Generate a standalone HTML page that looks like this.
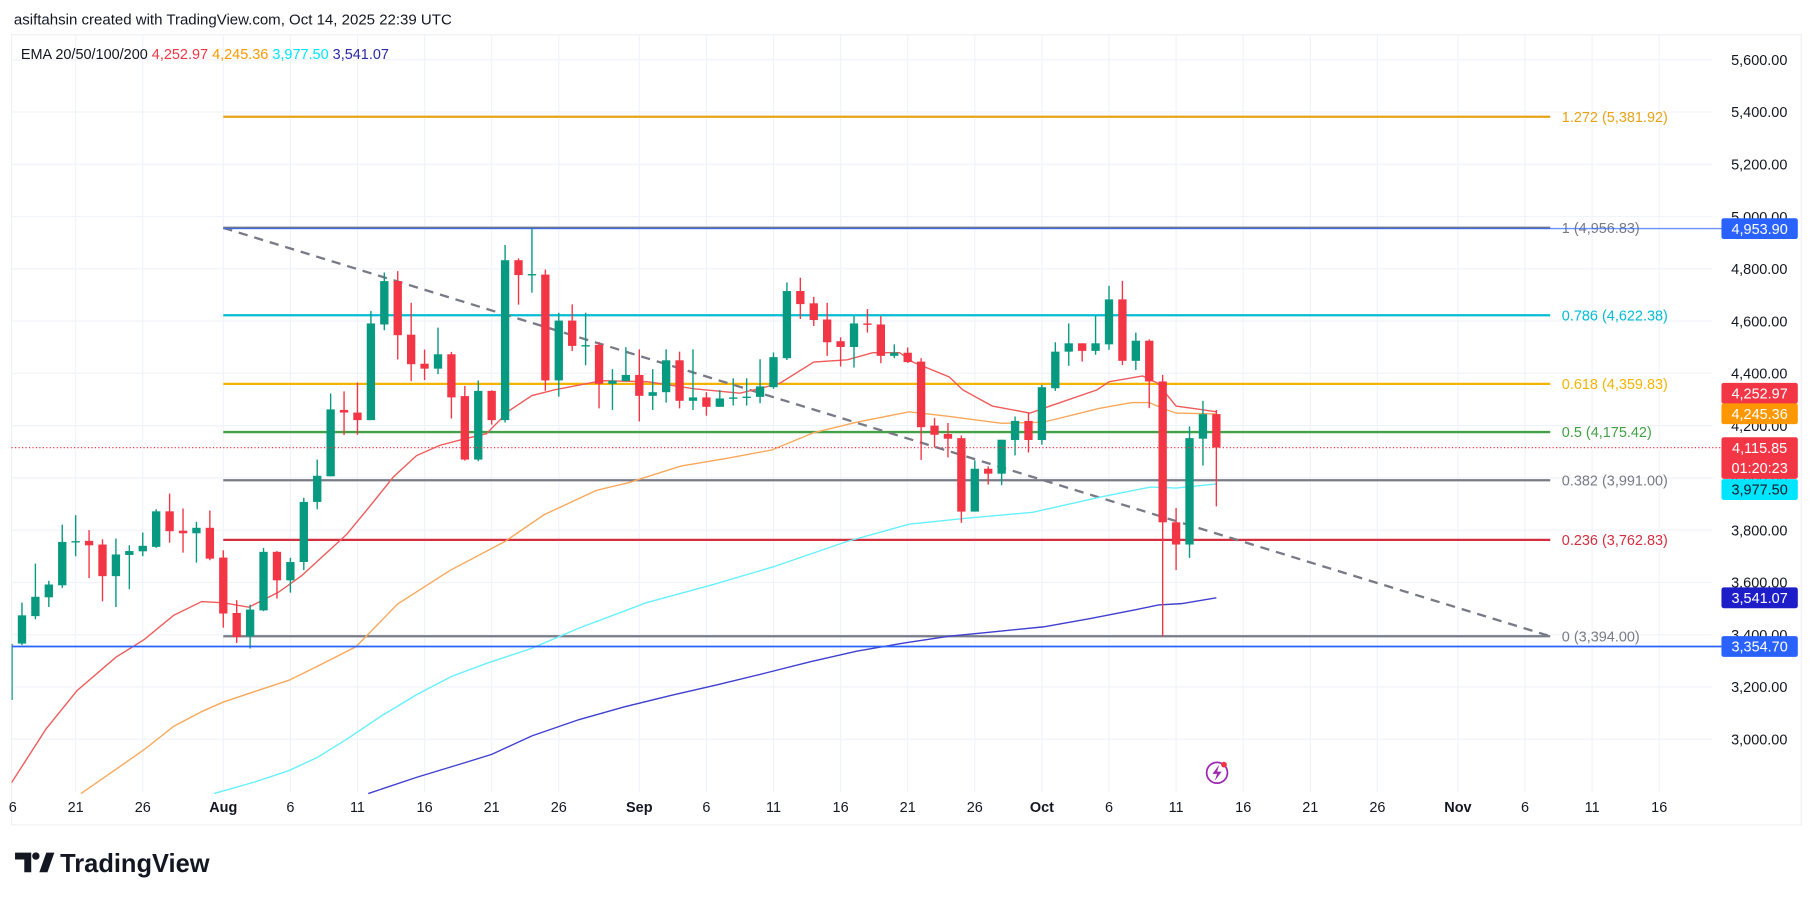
<!DOCTYPE html>
<html><head><meta charset="utf-8">
<style>
html,body{margin:0;padding:0;background:#fff;}
svg{display:block;font-family:"Liberation Sans",Arial,sans-serif;}
</style></head>
<body>
<svg id="chart" width="1814" height="900" viewBox="0 0 1568 778" preserveAspectRatio="none" xmlns="http://www.w3.org/2000/svg">
  <text x="12" y="21" font-size="13" fill="#131722">asiftahsin created with TradingView.com, Oct 14, 2025 22:39 UTC</text>
  <rect x="10" y="30" width="1547" height="683" fill="none" stroke="#eef0f4" stroke-width="1"/>
  <g id="grid"></g>
  <g id="plot"></g>
  <g id="axis"></g>
  <g id="taxis"></g>
  <text x="18" y="51" font-size="12.5"><tspan fill="#131722">EMA 20/50/100/200 </tspan><tspan fill="#f23645">4,252.97 </tspan><tspan fill="#ff9800">4,245.36 </tspan><tspan fill="#00e5ff">3,977.50 </tspan><tspan fill="#2a2aa8">3,541.07</tspan></text>
  <g>
    <path d="M13 737 H27 V754 H21 V743 H13 Z" fill="#131722"/>
    <circle cx="31" cy="740" r="3.2" fill="#131722"/>
    <path d="M34 754 L40 737 H47 L41 754 Z" fill="#131722"/>
    <text x="52" y="754" font-size="22" font-weight="bold" fill="#131722">TradingView</text>
  </g>
  <g>
    <circle cx="1052" cy="668" r="9" fill="none" stroke="#9c27b0" stroke-width="1.5"/>
    <path d="M1054 661 L1048 669 L1052 669 L1050 675 L1056 667 L1052 667 Z" fill="#9c27b0"/>
    <circle cx="1058" cy="661" r="2.5" fill="#f23645"/>
  </g>
</svg>
<script>
const days   = [-16,-15,-14,-13,-12,-11,-10,-9,-8,-7,-6,-5,-4,-3,-2,-1,0,1,2,3,4,5,6,7,8,9,10,11,12,13,14,15,16,17,18,19,20,21,22,23,24,25,26,27,28,29,30,31,32,33,34,35,36,37,38,39,40,41,42,43,44,45,46,47,48,49,50,51,52,53,54,55,56,57,58,59,60,61,62,63,64,65,66,67,68,69,70,71,72,73,74];
const opens  = [3150,3366,3471,3543,3589,3755,3759,3745,3624,3705,3719,3736,3872,3798,3788,3809,3695,3483,3394,3493,3717,3608,3678,3908,4006,4260,4250,4221,4587,4753,4548,4437,4418,4473,4313,4070,4333,4221,4833,4775,4778,4373,4602,4505,4509,4360,4371,4394,4314,4328,4450,4295,4308,4272,4306,4308,4310,4347,4458,4715,4668,4606,4523,4501,4591,4587,4467,4479,4445,4200,4168,4152,3871,4035,4016,4145,4218,4145,4343,4483,4515,4486,4511,4683,4448,4525,4369,3830,3745,4150,4244];
const highs  = [3455,3523,3672,3606,3821,3857,3800,3765,3768,3742,3791,3880,3940,3883,3832,3875,3723,3532,3515,3732,3720,3694,3924,4070,4323,4331,4365,4639,4786,4791,4670,4491,4575,4482,4352,4373,4335,4891,4840,4957,4797,4632,4664,4632,4519,4416,4500,4492,4416,4492,4483,4492,4328,4336,4381,4381,4454,4480,4748,4766,4693,4670,4538,4619,4646,4619,4511,4499,4458,4229,4210,4162,4067,4044,4146,4235,4248,4356,4519,4591,4515,4621,4735,4754,4556,4530,4394,3885,4197,4295,4260];
const lows   = [3132,3360,3459,3506,3579,3700,3617,3528,3506,3574,3700,3732,3752,3714,3676,3685,3427,3368,3347,3490,3538,3561,3647,3880,4006,4164,4165,4221,4565,4453,4370,4374,4397,4227,4066,4064,4204,4212,4663,4709,4333,4311,4485,4431,4266,4260,4369,4216,4260,4288,4266,4260,4238,4272,4277,4277,4286,4341,4451,4608,4581,4467,4426,4422,4556,4439,4458,4440,4069,4117,4078,3828,3871,3974,3972,4086,4097,4127,4333,4429,4445,4471,4490,4432,4413,4267,3394,3647,3694,4047,3891];
const closes = [3365,3474,3545,3592,3755,3758,3742,3624,3707,3720,3740,3872,3796,3788,3809,3691,3481,3391,3496,3717,3608,3678,3908,4008,4262,4250,4221,4591,4753,4546,4435,4418,4473,4308,4070,4333,4221,4833,4776,4780,4373,4602,4505,4508,4360,4372,4394,4314,4328,4450,4295,4308,4272,4304,4308,4311,4350,4462,4715,4665,4604,4519,4501,4591,4587,4467,4479,4443,4194,4165,4150,3871,4035,4016,4146,4218,4145,4347,4483,4515,4486,4515,4683,4448,4525,4369,3830,3745,4152,4244,4115.85];

const ema20Days = [-15.8,-13.2,-10.9,-8,-5.9,-3.7,-1.6,0,1.9,4.1,5.8,7.5,9.2,10.9,12.7,14.4,16.1,17.8,19.6,21.3,23,24.7,28.2,31.6,35.1,38.5,40.3,41.5,44,46.5,48.4,50.4,51.4,54.1,55.1,57.3,60.1,61.6,65.1,66,68.5,69.6,71,72.8,74];
const ema20 = [2832,3040,3186,3314,3381,3474,3527,3522,3505,3562,3624,3704,3784,3890,4005,4085,4124,4147,4169,4257,4315,4337,4372,4368,4341,4324,4346,4363,4443,4452,4479,4479,4443,4386,4337,4275,4248,4275,4337,4368,4390,4363,4275,4262,4253];
const ema50Days = [-10.6,-8,-5.9,-3.7,-1.6,0,2.3,4.9,7,9.9,13,16.9,21,23.9,27.8,30.3,34.1,37.7,40.9,44,47.2,51.1,54.1,58,61.1,65.3,67.7,69,70.2,71,74];
const ema50 = [2792,2885,2960,3049,3106,3142,3182,3226,3279,3354,3518,3646,3757,3859,3952,3983,4045,4076,4107,4173,4213,4253,4235,4209,4213,4266,4288,4288,4262,4248,4245];
const ema100Days = [-0.7,2.3,4.9,7,9.2,11.8,14.4,17,19.6,23,26.5,31.5,36.6,41,46.5,51.1,55.4,60.3,65.4,69.1,71,74];
const ema100 = [2792,2836,2880,2930,3000,3090,3170,3240,3290,3348,3425,3522,3593,3660,3757,3823,3846,3868,3927,3965,3961,3977];
const ema200Days = [10.8,14.4,17.8,20,23,26.5,29.9,33.4,36.8,40.3,43.8,47.2,50.7,54.1,57.6,61.1,64.5,68,69.7,71.4,74];
const ema200 = [2792,2854,2907,2942,3013,3075,3124,3168,3208,3252,3297,3337,3368,3394,3412,3430,3461,3496,3514,3519,3541];

const fibLevels = ["1.272","1","0.786","0.618","0.5","0.382","0.236","0"];
const fibPrices = [5381.92,4956.83,4622.38,4359.83,4175.42,3991.00,3762.83,3394.00];
const fibColors = ["#e8a317","#787b86","#00bcd4","#f5b400","#43a047","#787b86","#d32f3f","#787b86"];
const priceTicks = [5600,5400,5200,5000,4800,4600,4400,4200,4000,3800,3600,3400,3200,3000];
const timeLabels = ["21","26","Aug","6","11","16","21","26","Sep","6","11","16","21","26","Oct","6","11","16","21","26","Nov","6","11","16"];
const timeDays   = [-11,-6,0,5,10,15,20,25,31,36,41,46,51,56,61,66,71,76,81,86,92,97,102,107];
const priceBoxes = [4953.90,4252.97,4245.36,4115.85,3977.50,3541.07,3354.70];
const boxColors = ["#2962ff","#f23645","#ff9800","#f23645","#00e5ff","#1e1ec8","#2962ff"];
const lastPrice = 4115.85;

const NS="http://www.w3.org/2000/svg";
function X(d){return 193+d*11.6;}
function Y(p){return 550-(p-3394)*0.2259;}
function mk(tag,attrs,parent){const e=document.createElementNS(NS,tag);for(const k in attrs)e.setAttribute(k,attrs[k]);parent.appendChild(e);return e;}
const grid=document.getElementById('grid'),plot=document.getElementById('plot'),axis=document.getElementById('axis'),taxis=document.getElementById('taxis');
const svg=document.getElementById('chart');
const defs=mk('defs',{},svg);const cp=mk('clipPath',{id:'clip'},defs);mk('rect',{x:10,y:30,width:1470,height:682},cp);
plot.setAttribute('clip-path','url(#clip)');

priceTicks.forEach((p,i)=>{
  const l=mk('line',{x1:10,x2:1480,y1:Y(p),y2:Y(p),stroke:'#f0f3fa','stroke-width':1},grid);
  
  
  const t=mk('text',{x:1545,y:Y(p)+4.5,'font-size':12.5,fill:'#131722','text-anchor':'end'},axis);
  t.textContent=p.toLocaleString('en-US',{minimumFractionDigits:2});
  
  
});
timeLabels.forEach((s,i)=>{
  const x=X(timeDays[i]);
  const l=mk('line',{x1:x,x2:x,y1:30,y2:685,stroke:'#f0f3fa','stroke-width':1},grid);
  
  
  const bold=/[A-Z]/.test(s);
  const t=mk('text',{x:x,y:702,'font-size':12.5,fill:'#131722','text-anchor':'middle','font-weight':bold?'bold':'normal'},taxis);
  t.textContent=s;
  
  
});
const t6=mk('text',{x:11,y:702,'font-size':12.5,fill:'#131722','text-anchor':'middle'},taxis);
t6.textContent='6';



fibLevels.forEach((lv,i)=>{
  const y=Y(fibPrices[i]);
  const l=mk('line',{x1:193,x2:1340,y1:y,y2:y,stroke:fibColors[i],'stroke-width':2},plot);
  
  
  const t=mk('text',{x:1350,y:y+4.5,'font-size':12.5,fill:fibColors[i]},svg);
  t.textContent=lv+' ('+fibPrices[i].toLocaleString('en-US',{minimumFractionDigits:2})+')';
  
  
});
const h1=mk('line',{x1:193,x2:1488,y1:Y(priceBoxes[0]),y2:Y(priceBoxes[0]),stroke:'#2962ff','stroke-width':1.2,'stroke-opacity':0.7},svg);


const h2=mk('line',{x1:10,x2:1488,y1:Y(priceBoxes[6]),y2:Y(priceBoxes[6]),stroke:'#2962ff','stroke-width':1.5},svg);


const tl=mk('line',{x1:193,y1:Y(4956.83),x2:1340,y2:Y(3394),stroke:'#787b86','stroke-width':2,'stroke-dasharray':'8 6'},plot);


const lp=mk('line',{x1:10,x2:1488,y1:Y(lastPrice),y2:Y(lastPrice),stroke:'#f23645','stroke-width':1,'stroke-dasharray':'1 2'},svg);



function ema(ds,vs,color,name){
  const pts=ds.map((d,i)=>X(d).toFixed(1)+','+Y(vs[i]).toFixed(1)).join(' ');
  const p=mk('polyline',{points:pts,fill:'none',stroke:color,'stroke-width':1.2},plot);
  
  
}
ema(ema200Days,ema200,'#3f3fd0','ema-200-line');
ema(ema100Days,ema100,'#66f0ff','ema-100-line');
ema(ema50Days,ema50,'#f9a85a','ema-50-line');
ema(ema20Days,ema20,'#ef5a5a','ema-20-line');

days.forEach((d,i)=>{
  const up=closes[i]>=opens[i];const c=up?'#089981':'#f23645';const x=X(d);
  const g=mk('g',{},plot);
  
  
  mk('line',{x1:x,x2:x,y1:Y(highs[i]),y2:Y(lows[i]),stroke:c,'stroke-width':1.2},g);
  const top=Y(Math.max(opens[i],closes[i])),bot=Y(Math.min(opens[i],closes[i]));
  mk('rect',{x:x-3.6,y:top,width:7.2,height:Math.max(1.2,bot-top),fill:c},g);
});

// axis boxes (labels nudged apart to avoid overlap, like TradingView)
const boxShift = [0,-16,0,0,5,0,0];
priceBoxes.forEach((p,i)=>{
  const y=Y(p)+boxShift[i];const g=mk('g',{},axis);
  
  
  const h=(i===3)?36:18;
  mk('rect',{x:1488,y:y-9,width:66,height:h,fill:boxColors[i],rx:2},g);
  const t=mk('text',{x:1521,y:y+4.5,'font-size':12.5,fill:(i===4)?'#131722':'#fff','text-anchor':'middle'},g);
  t.textContent=p.toLocaleString('en-US',{minimumFractionDigits:2});
  if(i===3){const t2=mk('text',{x:1521,y:y+22,'font-size':12.5,fill:'#fff','text-anchor':'middle'},g);t2.textContent='01:20:23';}
});
</script>
</body></html>
